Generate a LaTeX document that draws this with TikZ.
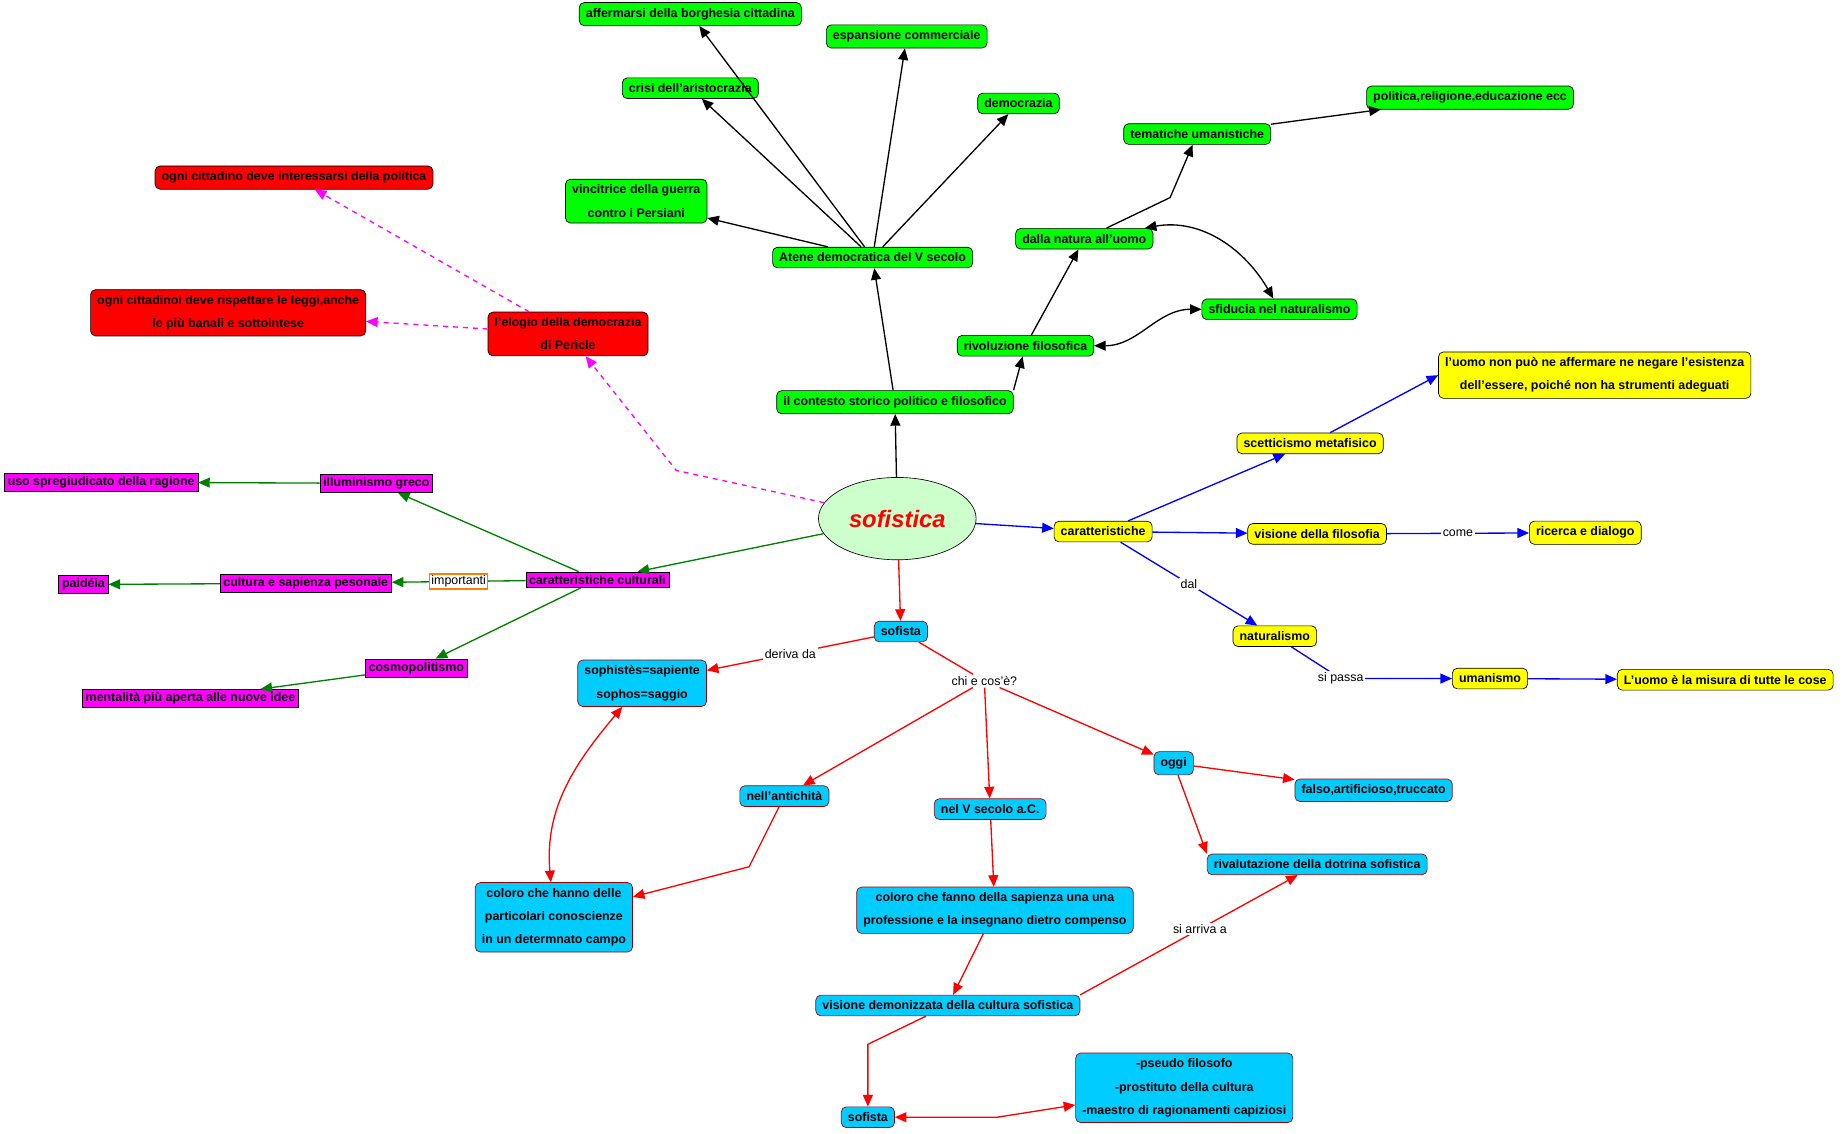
\documentclass[tikz,border=0pt]{standalone}
\usepackage{fontspec}
\setmainfont{Liberation Sans}
\usetikzlibrary{arrows.meta,shapes.geometric}
\definecolor{verde}{RGB}{0,255,0}
\definecolor{giallo}{RGB}{255,255,0}
\definecolor{ciano}{RGB}{0,204,255}
\definecolor{viola}{RGB}{255,0,255}
\definecolor{rosso}{RGB}{255,0,0}
\definecolor{scuro}{RGB}{0,128,0}
\begin{document}
\begin{tikzpicture}[x=0.025cm,y=-0.025cm,
	box/.style={draw=black,rounded corners=3pt,inner xsep=4pt,inner ysep=3.5pt,font=\fontsize{7.5}{14}\selectfont\bfseries,align=center},
	gbox/.style={box,fill=verde},
	ybox/.style={box,fill=giallo},
	cbox/.style={box,fill=ciano,draw=red!60!black},
	rbox/.style={box,fill=rosso},
	mbox/.style={box,fill=viola,rounded corners=0pt,inner xsep=2pt,inner ysep=2pt},
	lbl/.style={fill=white,inner sep=1pt,text=black,font=\fontsize{7.5}{8}\selectfont},
	nero/.style={-{Triangle[length=7pt,width=6pt]},thick,black},
	blu/.style={-{Triangle[length=7pt,width=6pt]},thick,blue},
	rs/.style={-{Triangle[length=7pt,width=6pt]},thick,red},
	vs/.style={-{Triangle[length=7pt,width=6pt]},thick,scuro},
	ms/.style={-{Triangle[length=7pt,width=6pt]},thick,viola,dashed}]
	\useasboundingbox (0,0) rectangle (1568,964);
	
	\node[ellipse,draw=black,fill=green!20,minimum width=3.35cm,minimum height=1.75cm,font=\Large\bfseries\itshape,text=red] (sof) at (763,441) {sofistica};
	
	% verde
	\node[gbox] (cont) at (761,342) {il contesto storico politico e filosofico};
	\node[gbox] (atene) at (742,219) {Atene democratica del V secolo};
	\node[gbox] (vinc) at (541,171) {vincitrice della guerra\\contro i Persiani};
	\node[gbox] (crisi) at (587,75) {crisi dell'aristocrazia};
	\node[gbox] (aff) at (587,12) {affermarsi della borghesia cittadina};
	\node[gbox] (esp) at (771,31) {espansione commerciale};
	\node[gbox] (demo) at (866,88) {democrazia};
	\node[gbox] (riv) at (872,294) {rivoluzione filosofica};
	\node[gbox] (nat) at (922,203) {dalla natura all'uomo};
	\node[gbox] (tem) at (1018,114) {tematiche umanistiche};
	\node[gbox] (pol) at (1250,83) {politica,religione,educazione ecc};
	\node[gbox] (sfi) at (1088,263) {sfiducia nel naturalismo};
	
	% rosso
	\node[rbox] (elo) at (483,284) {l'elogio della democrazia\\di Pericle};
	\node[rbox] (ogni) at (250,151) {ogni cittadino deve interessarsi della politica};
	\node[rbox] (leggi) at (194,266) {ogni cittadinoi deve rispettare le leggi,anche\\le più banali e sottointese};
	
	% viola
	\node[mbox] (cc) at (508,493) {caratteristiche culturali};
	\node[mbox] (ill) at (320,411) {illuminismo greco};
	\node[mbox] (uso) at (86,410) {uso spregiudicato della ragione};
	\node[mbox] (cult) at (260,496) {cultura e sapienza pesonale};
	\node[mbox] (pai) at (71,497) {paidéia};
	\node[mbox] (cosm) at (354,568) {cosmopolitismo};
	\node[mbox] (ment) at (162,594) {mentalità più aperta alle nuove idee};
	
	% giallo
	\node[ybox] (car) at (938,452) {caratteristiche};
	\node[ybox] (scet) at (1114,377) {scetticismo metafisico};
	\node[ybox] (uomo) at (1356,319) {l'uomo non può ne affermare ne negare l'esistenza\\dell'essere, poiché non ha strumenti adeguati};
	\node[ybox] (visf) at (1120,454) {visione della filosofia};
	\node[ybox] (ric) at (1348,453) {ricerca e dialogo};
	\node[ybox] (natu) at (1084,541) {naturalismo};
	\node[ybox] (uman) at (1267,577) {umanismo};
	\node[ybox] (mis) at (1467,578) {L'uomo è la misura di tutte le cose};
	
	% ciano
	\node[cbox] (sofa) at (766,537) {sofista};
	\node[cbox] (soph) at (546,581) {sophistès=sapiente\\sophos=saggio};
	\node[lbl] (chi) at (837,579) {chi e cos'è?};
	\node[cbox] (ant) at (667,677) {nell'antichità};
	\node[cbox] (vsec) at (842,688) {nel V secolo a.C.};
	\node[cbox] (oggi) at (998,649) {oggi};
	\node[cbox] (falso) at (1168,672) {falso,artificioso,truccato};
	\node[cbox] (riva) at (1120,735) {rivalutazione della dotrina sofistica};
	\node[cbox] (hanno) at (471,780) {coloro che hanno delle\\particolari conoscienze\\in un determnato campo};
	\node[cbox] (fanno) at (846,774) {coloro che fanno della sapienza una una\\professione e la insegnano dietro compenso};
	\node[cbox] (demz) at (806,855) {visione demonizzata della cultura sofistica};
	\node[cbox] (sofb) at (738,950) {sofista};
	\node[cbox] (pseu) at (1007,925) {-pseudo filosofo\\-prostituto della cultura\\-maestro di ragionamenti capiziosi};
	
	% archi neri
	\draw[nero] (sof) -- (cont);
	\draw[nero] (cont) -- (atene);
	\draw[nero] (cont.north east) -- (riv);
	\draw[nero] (atene) -- (vinc);
	\draw[nero] (atene) -- (crisi);
	\draw[nero] (atene) -- (aff);
	\draw[nero] (atene) -- (esp);
	\draw[nero] (atene) -- (demo);
	\draw[nero] (riv) -- (nat);
	\draw[nero] (nat) -- (995,168) -- (tem);
	\draw[nero] (tem) -- (pol);
	\draw[nero,{Triangle[length=7pt,width=6pt]}-{Triangle[length=7pt,width=6pt]}] (nat) to[out=10,in=120] (sfi);
	\draw[nero,{Triangle[length=7pt,width=6pt]}-{Triangle[length=7pt,width=6pt]}] (riv) to[out=0,in=180] (sfi);
	
	% archi tratteggiati
	\draw[ms] (sof) -- (575,400) -- (elo);
	\draw[ms] (elo) -- (ogni);
	\draw[ms] (elo) -- (leggi);
	
	% archi verdi
	\draw[vs] (sof) -- (cc);
	\draw[vs] (cc) -- (ill);
	\draw[vs] (ill) -- (uso);
	\draw[vs] (cc) -- node[lbl,draw=orange]{importanti} (cult);
	\draw[vs] (cult) -- (pai);
	\draw[vs] (cc) -- (cosm);
	\draw[vs] (cosm) -- (ment);
	
	% archi blu
	\draw[blu] (sof) -- (car);
	\draw[blu] (car) -- (scet);
	\draw[blu] (scet) -- (uomo.west);
	\draw[blu] (car) -- (visf);
	\draw[blu] (visf) -- node[lbl]{come} (ric);
	\draw[blu] (car) -- node[lbl]{dal} (natu);
	\draw[blu] (natu) -- (1140,577) node[lbl]{si passa} -- (uman);
	\draw[blu] (uman) -- (mis);
	
	% archi rossi
	\draw[rs] (sof) -- (sofa);
	\draw[rs] (sofa) -- node[lbl]{deriva da} (soph);
	\draw[thick,red] (sofa) -- (chi);
	\draw[rs] (chi) -- (ant);
	\draw[rs] (chi) -- (vsec);
	\draw[rs] (chi) -- (oggi);
	\draw[rs] (oggi) -- (falso);
	\draw[rs] (oggi) -- (riva.north west);
	\draw[rs] (ant) -- (637,737) -- (hanno);
	\draw[rs,{Triangle[length=7pt,width=6pt]}-{Triangle[length=7pt,width=6pt]}] (soph) to[out=-130,in=95] (hanno);
	\draw[rs] (vsec) -- (fanno);
	\draw[rs] (fanno) -- (demz);
	\draw[rs] (demz.north east) -- node[lbl,pos=0.55]{si arriva a} (riva);
	\draw[rs] (demz) -- (738,888) -- (sofb);
	\draw[rs,{Triangle[length=7pt,width=6pt]}-{Triangle[length=7pt,width=6pt]}] (sofb) -- (848,950) -- (pseu);
	
\end{tikzpicture}
\end{document}
